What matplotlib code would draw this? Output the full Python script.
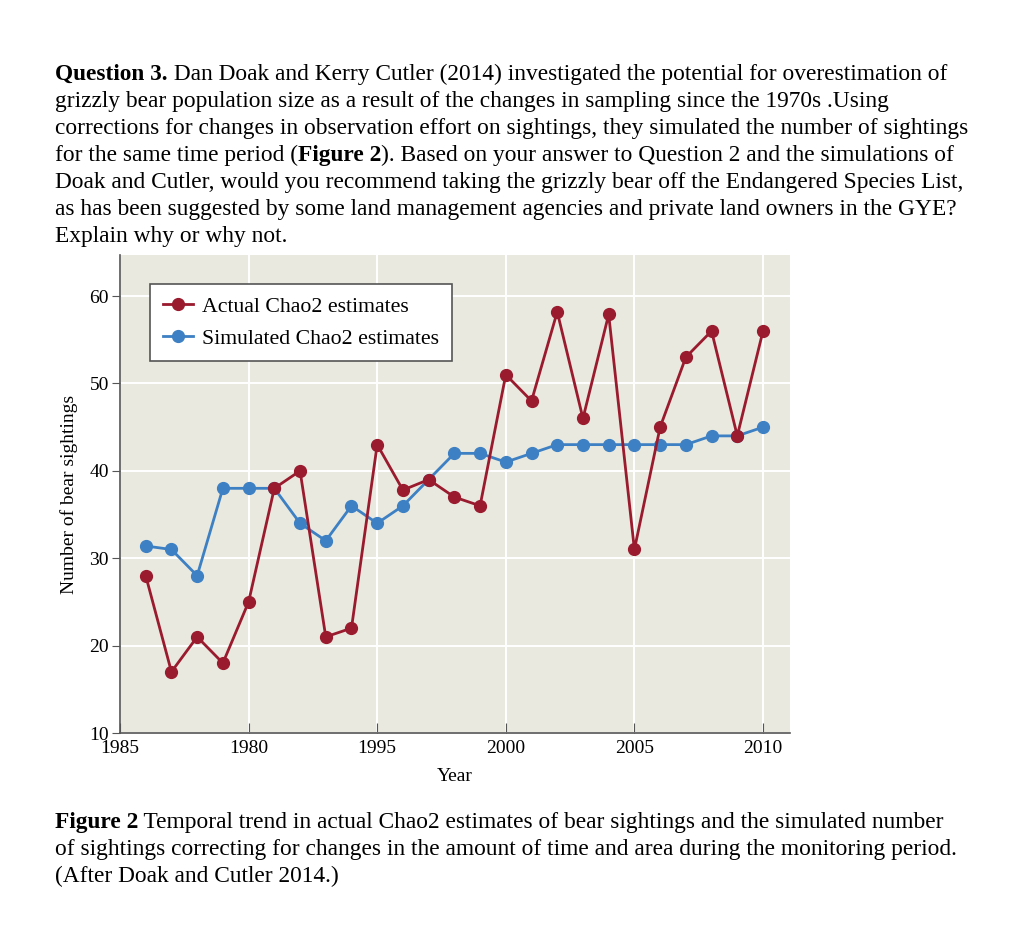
import matplotlib
matplotlib.use("Agg")
import matplotlib.pyplot as plt

years = list(range(1986, 2011))
actual = [28, 17, 21, 18, 25, 38, 40, 21, 22, 43, 37.8, 39, 37, 36,
          51, 48, 58.2, 46, 57.9, 31, 45, 53, 56, 44, 56]
simulated = [31.4, 31, 28, 38, 38, 38, 34, 32, 36, 34, 36, 39, 42, 42,
             41, 42, 43, 43, 43, 43, 43, 43, 44, 44, 45]
xtick_pos = [1985, 1990, 1995, 2000, 2005, 2010]
xtick_labels = ["1985", "1980", "1995", "2000", "2005", "2010"]
yticks = [10, 20, 30, 40, 50, 60]

question_lines = [
    [("Question 3.", "bold"), (" Dan Doak and Kerry Cutler (2014) investigated the potential for overestimation of", "normal")],
    [("grizzly bear population size as a result of the changes in sampling since the 1970s .Using", "normal")],
    [("corrections for changes in observation effort on sightings, they simulated the number of sightings", "normal")],
    [("for the same time period (", "normal"), ("Figure 2", "bold"), ("). Based on your answer to Question 2 and the simulations of", "normal")],
    [("Doak and Cutler, would you recommend taking the grizzly bear off the Endangered Species List,", "normal")],
    [("as has been suggested by some land management agencies and private land owners in the GYE?", "normal")],
    [("Explain why or why not.", "normal")],
]
caption_lines = [
    [("Figure 2", "bold"), (" Temporal trend in actual Chao2 estimates of bear sightings and the simulated number", "normal")],
    [("of sightings correcting for changes in the amount of time and area during the monitoring period.", "normal")],
    [("(After Doak and Cutler 2014.)", "normal")],
]

serif = ["Liberation Serif", "DejaVu Serif"]
plt.rcParams["font.family"] = serif

W, H = 1024, 943
fig = plt.figure(figsize=(W / 100, H / 100), dpi=100)
fig.patch.set_facecolor("white")

ax = fig.add_axes([120 / W, 1 - 733 / H, (790 - 120) / W, (733 - 255) / H])
ax.set_facecolor("#e9e9df")
red = "#9a1a2e"
blue = "#3d80c3"
ax.plot(years, simulated, "-o", color=blue, lw=2.0, ms=8.5, label="Simulated Chao2 estimates", zorder=3)
ax.plot(years, actual, "-o", color=red, lw=2.0, ms=8.5, label="Actual Chao2 estimates", zorder=4)

ax.set_xlim(1985, 2011.05)
ax.set_ylim(10, 64.7)
ax.set_xticks(xtick_pos)
ax.set_xticklabels(xtick_labels)
ax.set_yticks(yticks)
ax.grid(True, color="white", lw=1.4)
ax.set_axisbelow(True)
for s in ["top", "right"]:
    ax.spines[s].set_visible(False)
for s in ["left", "bottom"]:
    ax.spines[s].set_color("#555555")
    ax.spines[s].set_linewidth(1.2)
ax.tick_params(axis="x", direction="in", length=7, color="#555555", labelsize=14, pad=5)
ax.tick_params(axis="y", direction="out", length=6, color="#555555", labelsize=14, pad=2)
for lbl in ax.get_yticklabels():
    lbl.set_va("center_baseline")
ax.set_xlabel("Year", fontsize=14, labelpad=8)
ax.set_ylabel("Number of bear sightings", fontsize=14, labelpad=8)

h, l = ax.get_legend_handles_labels()
leg = ax.legend(h[::-1], l[::-1], loc="upper left", bbox_to_anchor=(0.045, 0.94),
                fontsize=15.7, frameon=True, fancybox=False, edgecolor="#555555",
                framealpha=1, handlelength=1.4, handletextpad=0.4, borderpad=0.58,
                labelspacing=0.55, borderaxespad=0)
leg.get_frame().set_linewidth(1.2)


def draw_rich(lines, x0, y_first, step, size):
    renderer = fig.canvas.get_renderer()
    for i, parts in enumerate(lines):
        y = 1 - (y_first + i * step) / H
        x = x0 / W
        for txt, wt in parts:
            t = fig.text(x, y, txt, fontsize=size, fontweight=wt,
                         va="center_baseline", ha="left")
            bb = t.get_window_extent(renderer=renderer)
            x = bb.x1 / W


draw_rich(question_lines, 55, 72, 27, 16.8)
draw_rich(caption_lines, 55, 820, 27, 16.8)

fig.savefig("out.png", dpi=100)
